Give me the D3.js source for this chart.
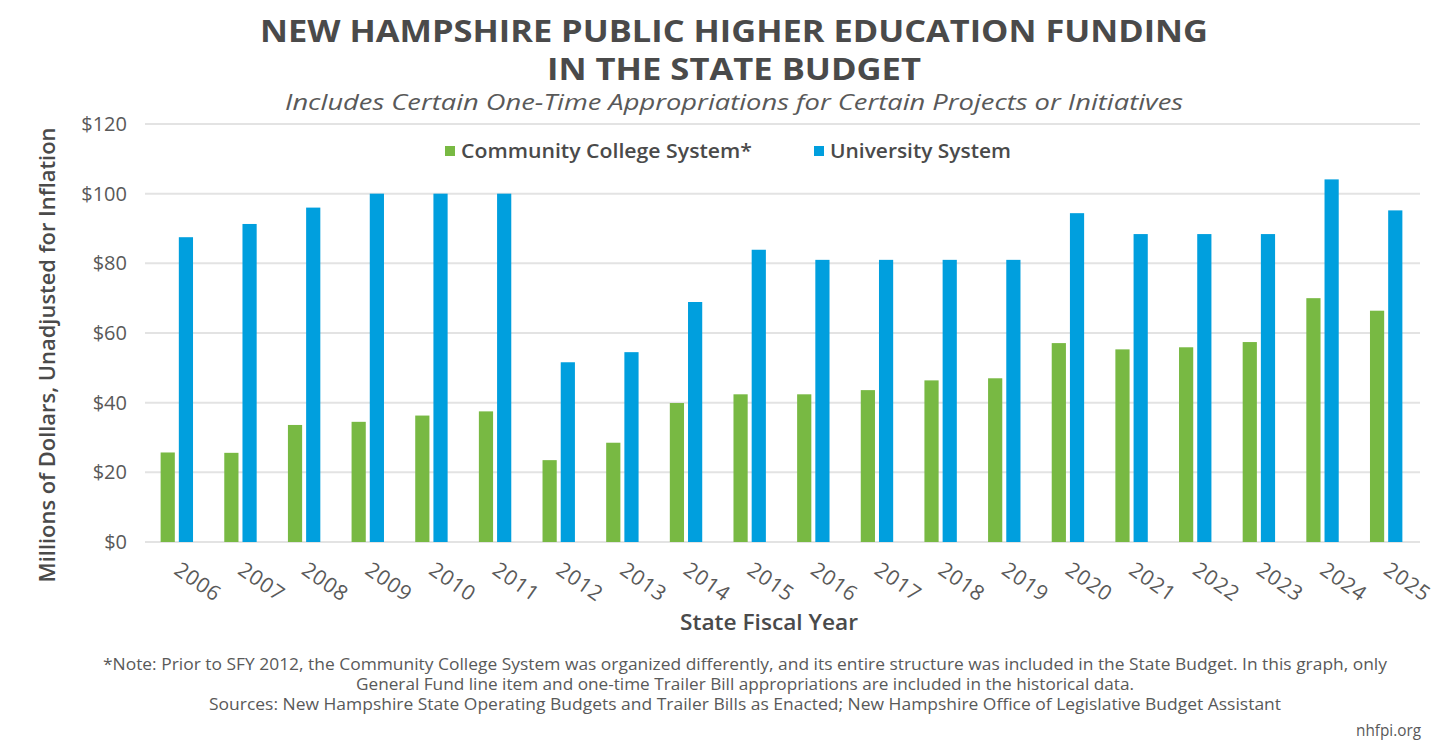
<!DOCTYPE html>
<html>
<head>
<meta charset="utf-8">
<script src="https://cdn.jsdelivr.net/npm/d3@7"></script>
<style>
  html, body { margin: 0; padding: 0; background: #fff; }
  svg { display: block; font-family: "Open Sans", "DejaVu Sans", sans-serif; }
</style>
</head>
<body>
<svg id="chart" width="1437" height="742"></svg>
<script>
const years = ["2006","2007","2008","2009","2010","2011","2012","2013","2014","2015","2016","2017","2018","2019","2020","2021","2022","2023","2024","2025"];
const communityCollege = [25.7, 25.6, 33.6, 34.5, 36.3, 37.5, 23.5, 28.5, 39.9, 42.4, 42.4, 43.6, 46.4, 47.0, 57.1, 55.3, 55.9, 57.4, 70.0, 66.4];
const universitySystem = [87.5, 91.3, 96.0, 100.0, 100.0, 100.0, 51.6, 54.5, 68.9, 83.9, 81.0, 81.0, 81.0, 81.0, 94.4, 88.4, 88.4, 88.4, 104.1, 95.2];
const yTicks = [0, 20, 40, 60, 80, 100, 120];
const seriesNames = ["Community College System*", "University System"];
const seriesColors = ["#78b943", "#009fde"];

const svg = d3.select("#chart");

const x = d3.scaleBand().domain(years).range([145, 1418]).paddingInner(0).paddingOuter(0);
const y = d3.scaleLinear().domain([0, 120]).range([542, 124]);

// gridlines
svg.append("g").selectAll("line").data(yTicks).join("line")
  .attr("x1", 145).attr("x2", 1420)
  .attr("y1", d => y(d)).attr("y2", d => y(d))
  .attr("stroke", "#e3e3e3").attr("stroke-width", 2);

// y tick labels
svg.append("g").selectAll("text").data(yTicks).join("text")
  .attr("x", 127).attr("y", d => y(d))
  .attr("dy", "0.35em")
  .attr("text-anchor", "end")
  .attr("font-size", 20).attr("fill", "#595959")
  .text(d => "$" + d);

// bars
const barW = 14.2, gap = 4;
const sub = d3.scaleBand().domain([0, 1]).range([0, 2 * barW + gap]).paddingInner(gap / (barW + gap));
const groupOffset = (x.bandwidth() - (2 * barW + gap)) / 2;
const series = [communityCollege, universitySystem];
series.forEach((vals, si) => {
  svg.append("g").selectAll("rect").data(vals).join("rect")
    .attr("x", (d, i) => x(years[i]) + groupOffset + sub(si))
    .attr("y", d => y(d))
    .attr("width", sub.bandwidth())
    .attr("height", d => y(0) - y(d))
    .attr("fill", seriesColors[si]);
});

// x tick labels
svg.append("g").selectAll("text").data(years).join("text")
  .attr("transform", d => `translate(${x(d) + x.bandwidth() / 2 - 4},573) rotate(35)`)
  .attr("text-anchor", "start")
  .attr("font-size", 21).attr("letter-spacing", 0.8).attr("fill", "#595959")
  .text(d => d);

function fitText(sel, len) {
  return sel.attr("textLength", len).attr("lengthAdjust", "spacingAndGlyphs");
}

// title
fitText(svg.append("text").attr("x", 734).attr("y", 42).attr("text-anchor", "middle")
  .attr("font-size", 31).attr("font-weight", 700).attr("fill", "#4a4a4a")
  .text("NEW HAMPSHIRE PUBLIC HIGHER EDUCATION FUNDING"), 948);
fitText(svg.append("text").attr("x", 734).attr("y", 80).attr("text-anchor", "middle")
  .attr("font-size", 31).attr("font-weight", 700).attr("fill", "#4a4a4a")
  .text("IN THE STATE BUDGET"), 374);
fitText(svg.append("text").attr("x", 734).attr("y", 110).attr("text-anchor", "middle")
  .attr("font-size", 21).attr("font-style", "italic").attr("fill", "#595959")
  .text("Includes Certain One-Time Appropriations for Certain Projects or Initiatives"), 898);

// legend
const legendX = [445, 814];
const legendLen = [291, 181];
seriesNames.forEach((name, i) => {
  svg.append("rect").attr("x", legendX[i]).attr("y", 146).attr("width", 10).attr("height", 10)
    .attr("fill", seriesColors[i]);
  fitText(svg.append("text").attr("x", legendX[i] + 16).attr("y", 151).attr("dy", "0.35em")
    .attr("font-size", 20).attr("font-weight", 600).attr("fill", "#4a4a4a")
    .text(name), legendLen[i]);
});

// axis titles
fitText(svg.append("text")
  .attr("transform", "translate(55,355) rotate(-90)")
  .attr("text-anchor", "middle")
  .attr("font-size", 21).attr("font-weight", 600).attr("fill", "#4a4a4a")
  .text("Millions of Dollars, Unadjusted for Inflation"), 455);
fitText(svg.append("text").attr("x", 769).attr("y", 630).attr("text-anchor", "middle")
  .attr("font-size", 21).attr("font-weight", 600).attr("fill", "#4a4a4a")
  .text("State Fiscal Year"), 178);

// notes
const notes = [
  "*Note: Prior to SFY 2012, the Community College System was organized differently, and its entire structure was included in the State Budget. In this graph, only",
  "General Fund line item and one-time Trailer Bill appropriations are included in the historical data.",
  "Sources: New Hampshire State Operating Budgets and Trailer Bills as Enacted; New Hampshire Office of Legislative Budget Assistant"
];
const noteLens = [1284, 778, 1072];
svg.append("g").selectAll("text").data(notes).join("text")
  .attr("x", 745).attr("y", (d, i) => 670 + i * 20)
  .attr("text-anchor", "middle")
  .attr("font-size", 15.5).attr("fill", "#595959")
  .attr("textLength", (d, i) => noteLens[i]).attr("lengthAdjust", "spacingAndGlyphs")
  .text(d => d);
fitText(svg.append("text").attr("x", 1421).attr("y", 736).attr("text-anchor", "end")
  .attr("font-size", 15.5).attr("fill", "#595959").text("nhfpi.org"), 65);
</script>
</body>
</html>
